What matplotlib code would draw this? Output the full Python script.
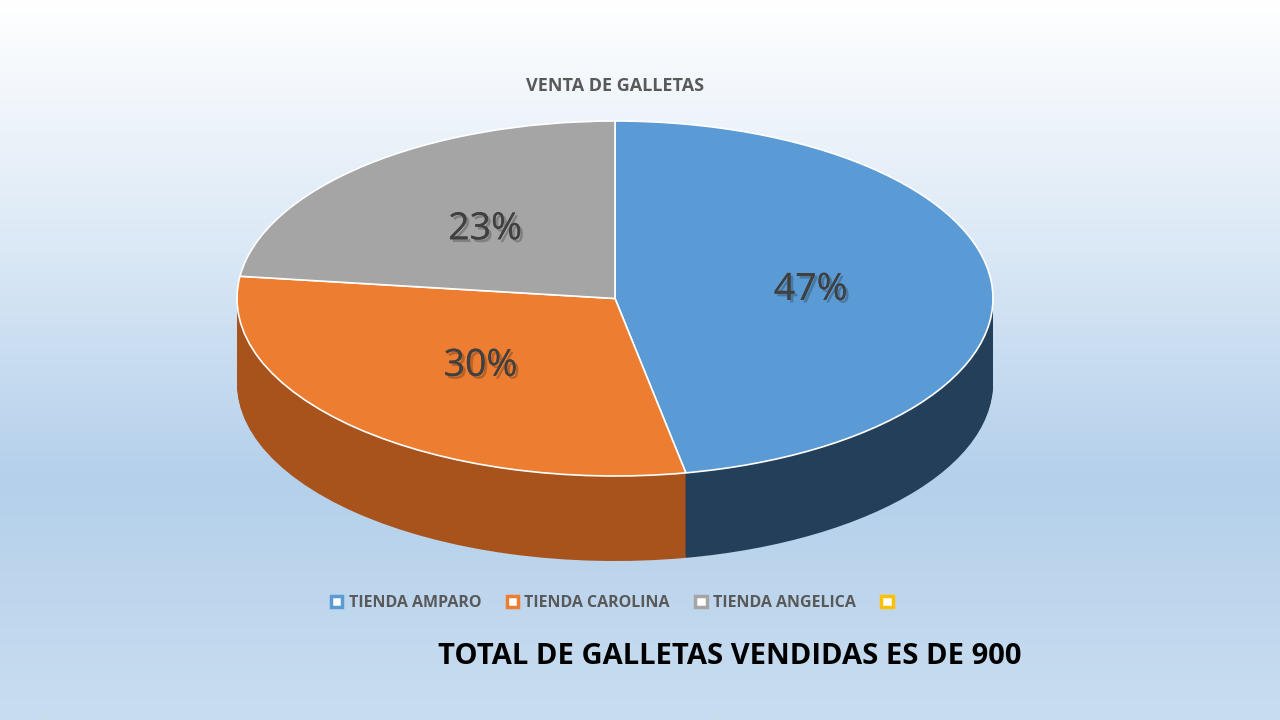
import numpy as np
import matplotlib.pyplot as plt
import matplotlib.patheffects as pe
from matplotlib.patches import Patch

stores = ['TIENDA AMPARO', 'TIENDA CAROLINA', 'TIENDA ANGELICA', '']
sold = [423, 270, 207]
top_colors = ['#5B9BD5', '#ED7D31', '#A5A5A5']
side_colors = ['#243F5A', '#A8521C', '#7A7A7A']
legend_colors = ['#5B9BD5', '#ED7D31', '#A5A5A5', '#FFC000']

plt.rcParams['font.family'] = ['Open Sans', 'DejaVu Sans']
fig = plt.figure(figsize=(12.8, 7.2), dpi=100)

# background gradient
bg = fig.add_axes([0, 0, 1, 1])
grad = np.linspace(0, 1, 256)[:, None]
bg.imshow(grad, aspect='auto', cmap=plt.matplotlib.colors.LinearSegmentedColormap.from_list(
    'bg', ['#FFFFFF', '#DCE9F6', '#B4D0EB', '#C9DDF0']), extent=[0, 1, 0, 1])
bg.axis('off')

# pie axes in pixel placement
W, H = 1280, 720
left, right, top, bottom = 237, 993, 121, 560
ry_px = (476 - 121) / 2
ax = fig.add_axes([left / W, (H - bottom) / H, (right - left) / W, (bottom - top) / H])
yunits = (bottom - top) / ry_px

depth = 85 / ry_px
for d in np.linspace(depth, 0.005, 60):
    ax.pie(sold, colors=side_colors, startangle=90, counterclock=False,
           center=(0, -d), radius=1, wedgeprops=dict(linewidth=0))

wedges, texts, autotexts = ax.pie(
    sold, colors=top_colors, startangle=90, counterclock=False,
    autopct='%1.0f%%', pctdistance=0.52, radius=1,
    wedgeprops=dict(edgecolor='white', linewidth=1.2),
    textprops=dict(fontsize=27, color='#404040'))
for t in autotexts:
    t.set_path_effects([pe.withSimplePatchShadow(offset=(2, -2), alpha=0.25), pe.Normal()])

ax.set_aspect('auto')
ax.set_xlim(-1, 1)
ax.set_ylim(1 - yunits, 1)
ax.axis('off')

fig.text(615 / W, 1 - 86 / H, 'VENTA DE GALLETAS', ha='center', va='center',
         fontsize=13, fontweight='bold', color='#595959')

handles = [Patch(facecolor='white', edgecolor=c, linewidth=2.5) for c in legend_colors]
fig.legend(handles, stores, loc='center', bbox_to_anchor=(615 / W, 1 - 603 / H), ncol=4,
           frameon=False, handlelength=0.7, handleheight=0.7,
           handletextpad=0.4, columnspacing=1.6,
           prop=dict(size=11.5, weight='bold'), labelcolor='#595959')

fig.text(730 / W, 1 - 657 / H, 'TOTAL DE GALLETAS VENDIDAS ES DE 900', ha='center',
         va='center', fontsize=21, fontweight='bold', color='black')

fig.savefig('out.png', dpi=100)
